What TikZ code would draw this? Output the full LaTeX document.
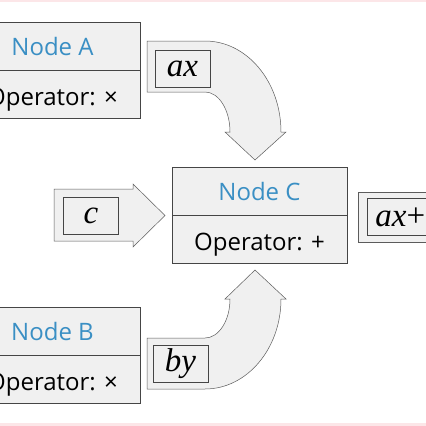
\documentclass[tikz,border=0pt]{standalone}
\usepackage{fontspec}
\setmainfont{Open Sans}
\newfontfamily\termfont{Liberation Serif}
\usepackage{xcolor}
\usetikzlibrary{positioning}
\definecolor{nodeblue}{HTML}{3A8FC4}
\definecolor{boxfill}{HTML}{F0F0F0}
\definecolor{edge}{HTML}{454545}
\definecolor{arrowedge}{HTML}{5C5C5C}
\definecolor{pinkbar}{HTML}{FCE6E8}

\begin{document}
\begin{tikzpicture}[x=1pt,y=-1pt,
    every node/.style={font=\fontsize{24}{28}\selectfont},
    titlebox/.style={draw=edge,fill=boxfill,line width=0.9pt,text=nodeblue,
                     minimum width=175pt,minimum height=48pt,inner sep=0pt},
    opbox/.style={draw=edge,fill=boxfill,line width=0.9pt,
                  minimum width=175pt,minimum height=48pt,inner sep=0pt,
                  text height=22pt,text depth=0pt},
    termbox/.style={draw=edge,fill=boxfill,line width=0.8pt,
                    minimum width=55pt,minimum height=37pt,inner sep=0pt,
                    font=\fontsize{33}{36}\selectfont\termfont\itshape},
    blockarrow/.style={draw=arrowedge,fill=boxfill,line width=0.5pt},
  ]
  \useasboundingbox (0,0) rectangle (426,426);
  \clip (0,0) rectangle (426,426);
  \fill[white] (0,0) rectangle (426,426);
  \fill[pinkbar] (0,0) rectangle (426,2);
  \fill[pinkbar] (0,423) rectangle (426,426);

  % block arrows
  \draw[blockarrow] (147,41) -- (205,41)
    arc[start angle=90,end angle=0,x radius=76pt,y radius=91pt]
    -- (286,132) -- (255,160) -- (225,132) -- (230,132)
    arc[start angle=0,end angle=90,x radius=25pt,y radius=40pt]
    -- (147,92) -- cycle;
  \draw[blockarrow] (147,338) -- (205,338)
    arc[start angle=-90,end angle=0,x radius=25pt,y radius=39pt]
    -- (225,299) -- (255,270) -- (286,299) -- (281,299)
    arc[start angle=0,end angle=-90,x radius=76pt,y radius=90pt]
    -- (147,389) -- cycle;
  \draw[blockarrow] (54,189) -- (133,189) -- (133,184) -- (165,215.5)
    -- (133,247) -- (133,241) -- (54,241) -- cycle;
  \draw[blockarrow] (358,192) rectangle (440,242);

  % nodes
  \node[titlebox] (na) at (52.5,46) {Node A};
  \node[opbox,below=0pt of na] (naop) {Operator: ×};
  \node[titlebox] (nb) at (52.5,331) {Node B};
  \node[opbox,below=0pt of nb] (nbop) {Operator: ×};
  \node[titlebox] (nc) at (259.5,191) {Node C};
  \node[opbox,below=0pt of nc] (ncop) {Operator: +};

  % terms
  \node[termbox] (ax) at (182.5,68.5) {ax};
  \node[termbox] (by) at (180.5,364) {by};
  \node[termbox] (cc) at (91,215.5) {c};
  \node[termbox,anchor=west,text width=64pt,align=left,inner xsep=8pt]
    (sum) at (367,217) {ax{\upshape +}};
\end{tikzpicture}
\end{document}
